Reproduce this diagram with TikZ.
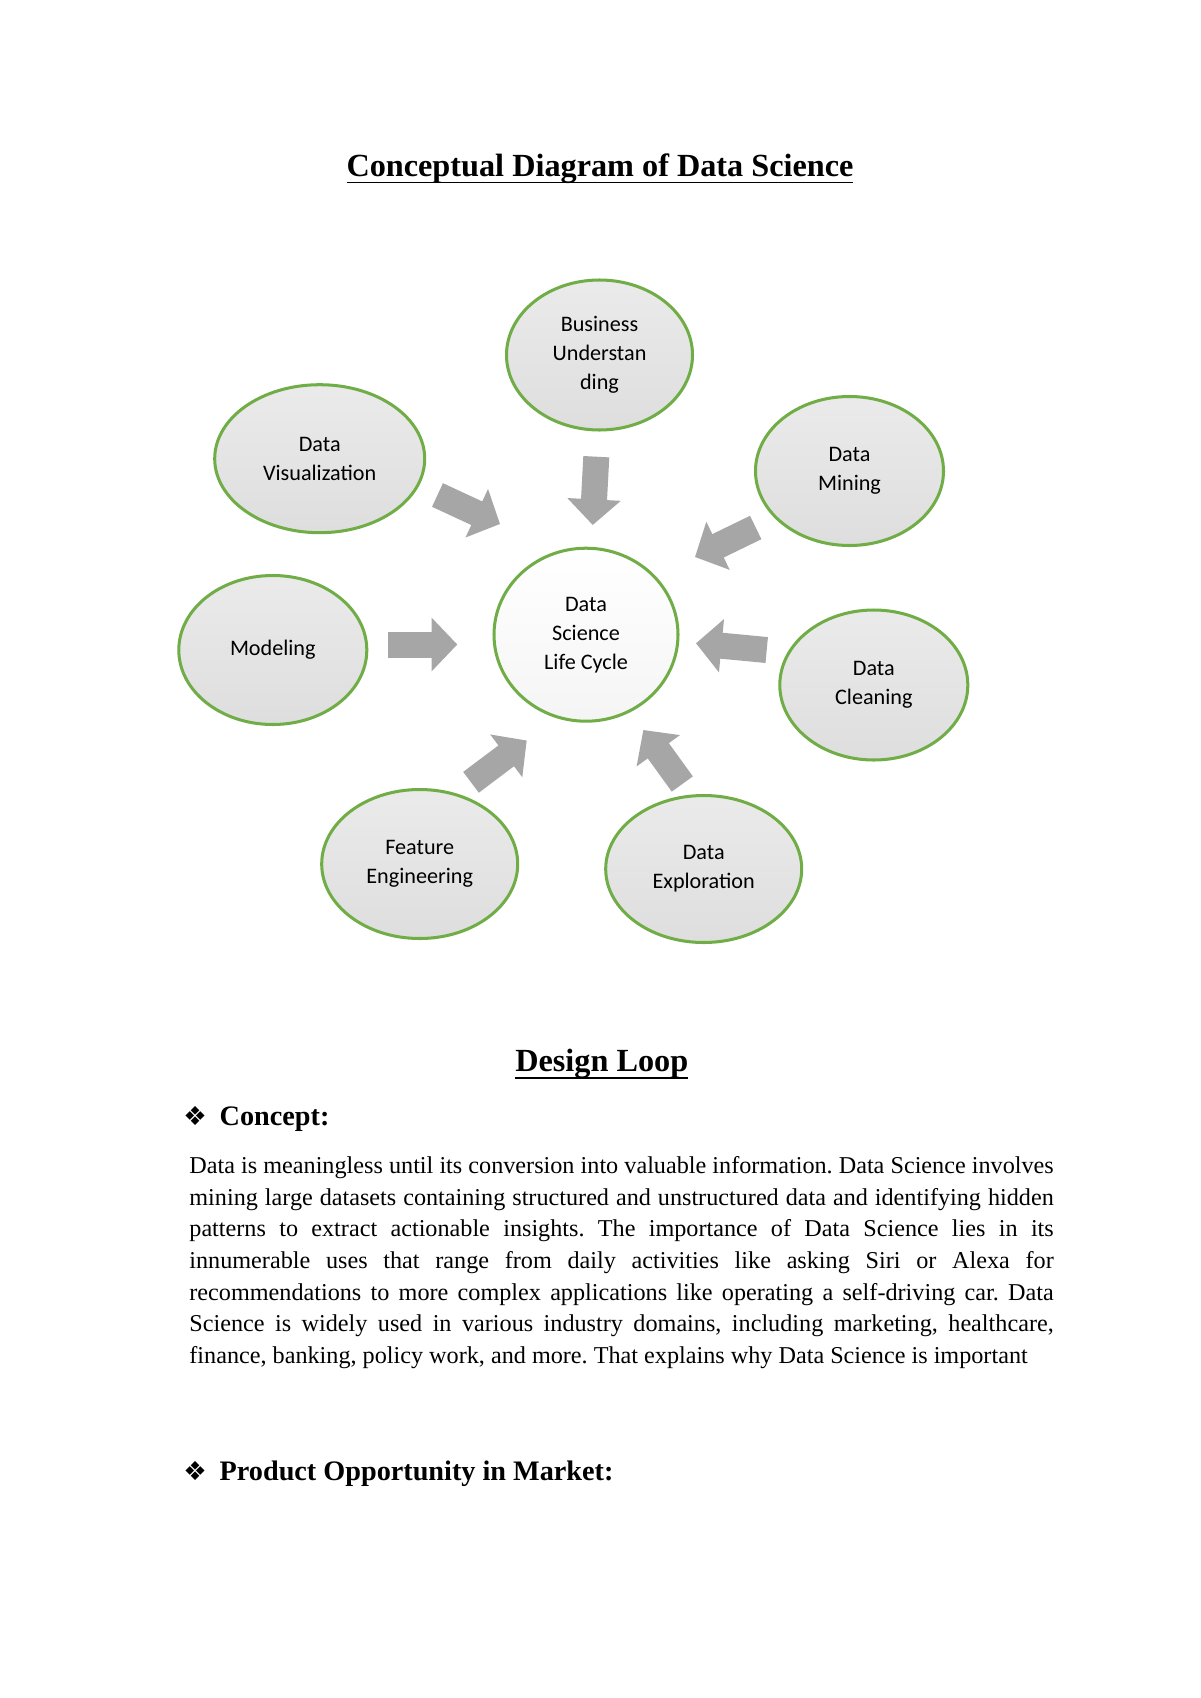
\documentclass[tikz,border=0pt]{standalone}
\usepackage{fontspec}
\setmainfont{Liberation Serif}
\newfontfamily\carlito{Carlito}
\newfontfamily\dejavu{DejaVu Sans}
\usetikzlibrary{shapes.geometric,arrows.meta}
\newcommand{\pxu}{0.4961pt}
\newcommand{\myul}[1]{\setbox0\hbox{#1}\rlap{\raisebox{-3.6pt}{\rule{\wd0}{0.85pt}}}\box0}
\frenchspacing
\definecolor{dsgreen}{HTML}{70AD47}
\definecolor{arrowgray}{HTML}{A6A6A6}
\tikzset{
  bubble/.style={ellipse, draw=dsgreen, line width=1.5pt, inner sep=0pt, align=center,
    top color=white!92!black, bottom color=white!87!black,
    font=\carlito\fontsize{11}{14.4}\selectfont},
  hub/.style={bubble, top color=white, bottom color=white!96!black},
  blockarr/.style={draw=arrowgray, line width=12.9pt,
    -{Triangle[length=12.7pt,width=25.8pt]}},
  heading/.style={anchor=base, inner sep=0pt, font=\bfseries\fontsize{16}{19}\selectfont},
  subhead/.style={anchor=base west, inner sep=0pt, font=\bfseries\fontsize{14}{16}\selectfont},
  bullet/.style={anchor=base west, inner sep=0pt, font=\dejavu\fontsize{13}{15}\selectfont},
  bodyline/.style={anchor=base west, inner sep=0pt, font=\fontsize{12}{14}\selectfont}
}
\begin{document}
\begin{tikzpicture}[x=0.4961pt,y=-0.4961pt]
\useasboundingbox (0,0) rectangle (1200,1698);
\fill[white] (0,0) rectangle (1200,1698);

% headings
\node[heading] (title) at (600,176) {\myul{Conceptual Diagram of Data Science}};

% bubbles
\node[hub, minimum width=184*\pxu, minimum height=173*\pxu] (dsl) at (586,634.7) {Data\\Science\\Life Cycle};
\node[bubble, minimum width=186*\pxu, minimum height=150*\pxu] (bu) at (599.5,355) {Business\\Understan\\ding};
\node[bubble, minimum width=210*\pxu, minimum height=148*\pxu] (dv) at (319.7,458.7) {Data\\Visualization};
\node[bubble, minimum width=188*\pxu, minimum height=149*\pxu] (dm) at (849.5,471) {Data\\Mining};
\node[bubble, minimum width=188*\pxu, minimum height=149*\pxu] (mod) at (272.8,650) {Modeling};
\node[bubble, minimum width=188*\pxu, minimum height=150*\pxu] (dc) at (873.8,685) {Data\\Cleaning};
\node[bubble, minimum width=196*\pxu, minimum height=149*\pxu] (fe) at (419.7,864) {Feature\\Engineering};
\node[bubble, minimum width=196*\pxu, minimum height=147*\pxu] (de) at (703.7,869) {Data\\Exploration};

% arrow ends
\coordinate (buT) at (596.3,456.7); \coordinate (buH) at (592.7,525);
\coordinate (dvT) at (437.5,495);   \coordinate (dvH) at (500,524);
\coordinate (dmT) at (755.7,527.5); \coordinate (dmH) at (695,557);
\coordinate (moT) at (388.3,644.5); \coordinate (moH) at (457.3,644.5);
\coordinate (dcT) at (766.7,650);   \coordinate (dcH) at (696,643.3);
\coordinate (feT) at (471,782.3);   \coordinate (feH) at (526.7,740.5);
\coordinate (deT) at (682.3,784);   \coordinate (deH) at (643.3,730);

\draw[blockarr] (buT) -- (buH);
\draw[blockarr] (dvT) -- (dvH);
\draw[blockarr] (dmT) -- (dmH);
\draw[blockarr] (moT) -- (moH);
\draw[blockarr] (dcT) -- (dcH);
\draw[blockarr] (feT) -- (feH);
\draw[blockarr] (deT) -- (deH);

% text section
\node[heading] (loop) at (601.8,1071.7) {\myul{Design Loop}};
\node[bullet] (b1) at (183,1125) {❖};
\node[subhead] (concept) at (219.3,1125) {Concept:};

\node[bodyline] (l1) at (189,1173.3) {\makebox[428.8pt][s]{Data is meaningless until its conversion into valuable information. Data Science involves}};
\node[bodyline] (l2) at (189,1205.3) {\makebox[428.8pt][s]{mining large datasets containing structured and unstructured data and identifying hidden}};
\node[bodyline] (l3) at (189,1236.7) {\makebox[428.8pt][s]{patterns to extract actionable insights. The importance of Data Science lies in its}};
\node[bodyline] (l4) at (189,1268.3) {\makebox[428.8pt][s]{innumerable uses that range from daily activities like asking Siri or Alexa for}};
\node[bodyline] (l5) at (189,1300) {\makebox[428.8pt][s]{recommendations to more complex applications like operating a self-driving car. Data}};
\node[bodyline] (l6) at (189,1331.7) {\makebox[428.8pt][s]{Science is widely used in various industry domains, including marketing, healthcare,}};
\node[bodyline] (l7) at (189,1363.3) {finance, banking, policy work, and more. That explains why Data Science is important};

\node[bullet] (b2) at (183,1480.7) {❖};
\node[subhead] (product) at (219.3,1480.7) {Product Opportunity in Market:};
\end{tikzpicture}
\end{document}
